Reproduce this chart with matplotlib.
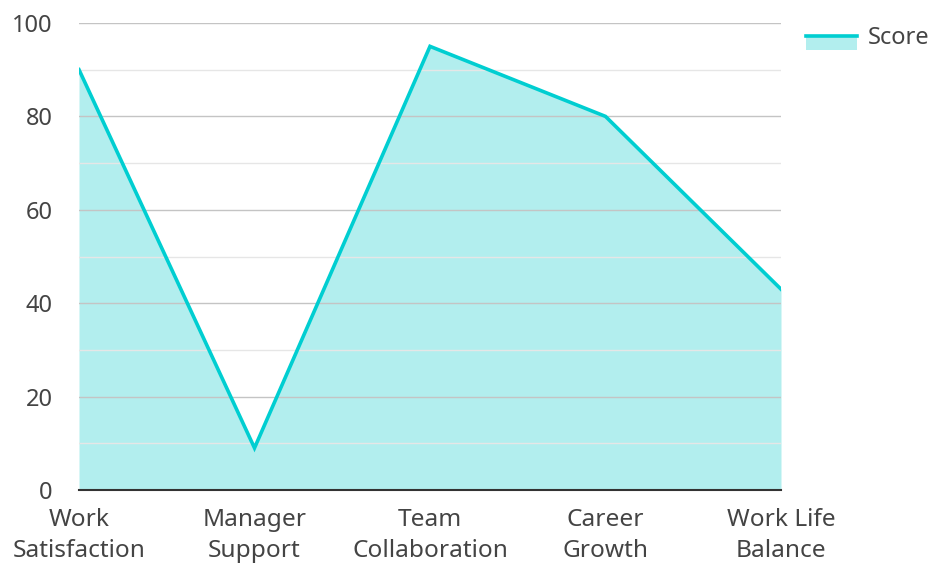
import matplotlib
matplotlib.use("Agg")
import matplotlib.pyplot as plt
from matplotlib.patches import Rectangle
from matplotlib.lines import Line2D
from matplotlib.legend_handler import HandlerBase
from matplotlib.ticker import MultipleLocator

categories = ["Work\nSatisfaction", "Manager\nSupport", "Team\nCollaboration", "Career\nGrowth", "Work Life\nBalance"]
scores = [90, 9, 95, 80, 43]
series_name = "Score"
yticks = [0, 20, 40, 60, 80, 100]

line_color = "#00CED1"
fill_color = "#b2eeee"
text_color = "#444444"

plt.rcParams['font.family'] = ['Noto Sans', 'DejaVu Sans']

fig = plt.figure(figsize=(9.31, 5.64), dpi=100)
ax = fig.add_axes([79/931, 1 - 490/564, (781-79)/931, (490-23)/564])

x = list(range(len(categories)))
ax.fill_between(x, scores, 0, color=fill_color, linewidth=0, zorder=2)
ax.plot(x, scores, color=line_color, linewidth=2.6, zorder=3, solid_joinstyle='miter')

ax.set_xlim(0, len(categories) - 1)
ax.set_ylim(0, 100)
ax.set_yticks(yticks)
ax.yaxis.set_minor_locator(MultipleLocator(10))
ax.set_xticks(x)
ax.set_xticklabels(categories, linespacing=1.4, fontsize=17.6)

ax.grid(axis='y', which='major', color='#c4c4c4', linewidth=1, zorder=1)
ax.grid(axis='y', which='minor', color='#e6e6e6', linewidth=1, zorder=1)
ax.set_axisbelow(False)

for s in ['top', 'right', 'left']:
    ax.spines[s].set_visible(False)
ax.spines['bottom'].set_color('#333333')
ax.spines['bottom'].set_linewidth(1.5)
ax.spines['bottom'].set_zorder(4)

ax.tick_params(axis='both', which='both', length=0, colors=text_color)
ax.tick_params(axis='y', pad=19, labelsize=17)
ax.tick_params(axis='x', pad=13)


class AreaHandler(HandlerBase):
    def create_artists(self, legend, orig_handle, xdescent, ydescent, width, height, fontsize, trans):
        mid = height / 2 - ydescent
        ph = 10.5
        r = Rectangle((-xdescent, mid - ph), width, ph, facecolor=fill_color, edgecolor='none', transform=trans)
        l = Line2D([-xdescent, -xdescent + width], [mid, mid], color=line_color, linewidth=2.6, transform=trans)
        return [r, l]


proxy = Line2D([], [], color=line_color)
leg = fig.legend([proxy], [series_name], loc='upper left', bbox_to_anchor=(806/931, 1 - 26/564),
                 frameon=False, fontsize=17, handlelength=2.15, handleheight=0.7, handletextpad=0.45,
                 borderpad=0, borderaxespad=0, labelcolor=text_color,
                 handler_map={Line2D: AreaHandler()})

fig.savefig("out.png", dpi=100)
